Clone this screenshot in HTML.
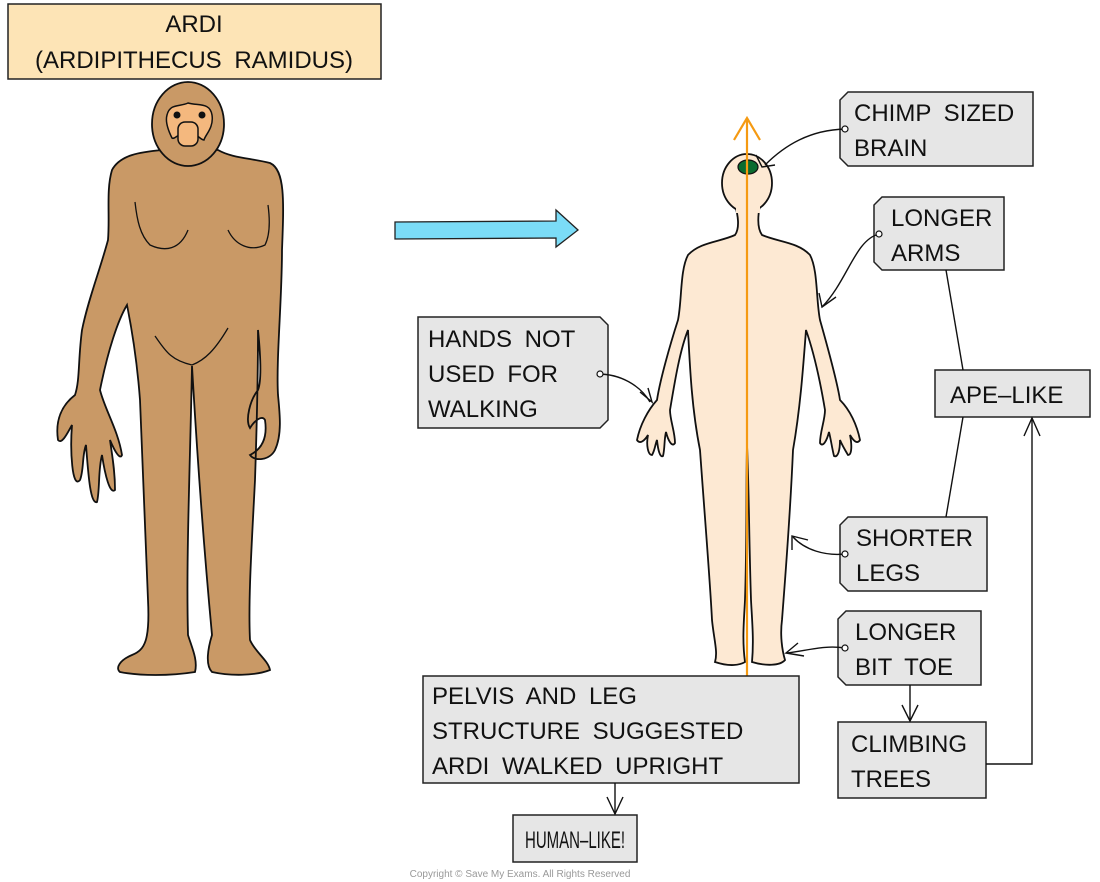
<!DOCTYPE html>
<html><head><meta charset="utf-8"><style>
html,body{margin:0;padding:0;background:#fff;width:1100px;height:882px;overflow:hidden}
text{font-family:"Liberation Sans",sans-serif;font-size:24px;fill:#111}
</style></head><body>
<svg width="1100" height="882" viewBox="0 0 1100 882" xmlns="http://www.w3.org/2000/svg">
<rect x="8" y="4" width="373" height="75" fill="#fde4b6" stroke="#222" stroke-width="1.5"/>
<text x="194" y="32" text-anchor="middle">ARDI</text>
<text x="194" y="68" text-anchor="middle" word-spacing="6">(ARDIPITHECUS RAMIDUS)</text>
<path d="M162,150 C140,152 120,155 112,170 C106,190 110,215 108,240 C100,270 88,300 82,330 C78,360 80,380 75,395 C62,405 55,420 58,440 C62,445 68,432 72,425 C70,450 72,490 80,480 C84,470 82,455 86,445 C88,470 90,505 97,502 C100,490 98,470 102,455 C105,475 110,495 115,490 C115,470 112,455 110,440 C115,452 120,460 122,455 C118,430 105,410 100,390 C108,350 118,320 127,305 C132,330 137,360 140,400 C143,460 145,540 148,600 C150,640 145,650 132,655 C120,660 115,668 120,672 C140,676 170,676 195,672 C198,660 192,648 188,635 C186,560 190,470 192,366 C198,470 205,560 212,635 C208,648 205,665 212,672 C230,676 255,676 270,670 C268,660 255,652 250,640 C248,600 252,540 255,480 C257,420 258,370 258,330 C260,350 262,380 258,390 C250,400 245,420 250,428 C255,420 262,415 265,420 C268,440 260,450 250,455 C255,462 270,460 275,450 C282,435 280,415 278,395 C276,360 282,300 282,250 C284,200 285,170 270,163 C250,158 232,158 218,150 Z" fill="#c99966" stroke="#111" stroke-width="1.8"/>
<ellipse cx="188" cy="124" rx="36" ry="42" fill="#c99966" stroke="#111" stroke-width="1.8"/>
<path d="M167,115 C170,103 180,107 188,103 C198,106 210,102 212,115 C214,128 205,135 204,140 C200,140 197,132 188,134 C178,132 175,140 172,138 C168,130 165,122 167,115 Z" fill="#f4b87e" stroke="#111" stroke-width="1.5"/>
<rect x="178" y="122" width="20" height="24" rx="7" fill="#f4b87e" stroke="#111" stroke-width="1.5"/>
<circle cx="177" cy="115" r="3.5" fill="#111"/><circle cx="202" cy="115" r="3.5" fill="#111"/>
<path d="M135,202 C137,220 140,235 150,245 C165,252 180,250 188,230 M228,230 C235,245 250,252 265,245 C270,235 270,220 268,205" fill="none" stroke="#111" stroke-width="1.3"/>
<path d="M155,336 C165,350 170,360 192,365 C205,360 215,350 228,328" fill="none" stroke="#111" stroke-width="1.3"/>
<path d="M395,222 L556,221 L556,210 L578,230 L556,247 L556,238 L395,239 Z" fill="#7bdcf7" stroke="#222" stroke-width="1.3"/>
<path d="M735,205 C738,215 740,228 735,235 C720,242 700,242 688,255 C680,270 682,300 678,320 C670,345 660,380 657,400 C648,410 640,425 637,440 C640,445 645,440 648,435 C646,445 648,455 652,455 C655,450 655,445 657,440 C658,450 660,458 663,456 C665,448 664,440 666,432 C668,440 672,448 675,443 C675,432 670,420 670,410 C675,380 680,350 688,330 C690,370 692,410 700,450 C705,520 710,580 712,620 C714,640 718,652 715,662 C730,667 740,665 745,662 C742,640 744,620 745,600 C747,540 746,490 747,445 C749,490 749,540 751,600 C752,620 754,640 752,662 C765,666 780,666 785,660 C782,650 780,635 782,620 C785,580 790,520 793,450 C800,410 803,370 806,330 C813,350 820,380 825,410 C825,420 820,432 820,443 C823,448 827,440 829,432 C831,440 832,448 834,456 C838,458 840,450 840,440 C842,445 845,450 848,455 C852,455 852,445 850,435 C853,440 857,445 860,440 C857,425 850,410 840,400 C837,380 827,345 820,320 C816,300 818,270 810,255 C798,242 778,242 762,235 C757,228 758,215 760,205 Z" fill="#fde9d3" stroke="#111" stroke-width="1.8"/>
<ellipse cx="747" cy="183" rx="25" ry="29" fill="#fde9d3" stroke="#111" stroke-width="1.8"/>
<rect x="736" y="205" width="24" height="8" fill="#fde9d3"/>
<ellipse cx="748" cy="167" rx="10" ry="7" fill="#0b6b2f" stroke="#111" stroke-width="1.2"/>
<line x1="747" y1="118" x2="747" y2="676" stroke="#f59a12" stroke-width="2.2"/>
<path d="M734,140 L747,118 L760,140" fill="none" stroke="#f59a12" stroke-width="2.2"/>
<g fill="#e6e6e6" stroke="#222" stroke-width="1.5">
<path d="M848,92 L1033,92 L1033,166 L848,166 L840,158 L840,100 Z"/>
<path d="M882,197 L1004,197 L1004,270 L882,270 L874,262 L874,205 Z"/>
<path d="M418,317 L600,317 L608,325 L608,420 L600,428 L418,428 Z"/>
<rect x="935" y="370" width="155" height="47"/>
<path d="M848,517 L987,517 L987,591 L848,591 L840,583 L840,525 Z"/>
<path d="M846,611 L981,611 L981,685 L846,685 L838,677 L838,619 Z"/>
<rect x="838" y="722" width="148" height="76"/>
<rect x="423" y="676" width="376" height="107"/>
<rect x="513" y="815" width="124" height="47"/>
</g>
<g word-spacing="6">
<text x="854" y="121">CHIMP SIZED</text><text x="854" y="156">BRAIN</text>
<text x="891" y="226">LONGER</text><text x="891" y="261">ARMS</text>
<text x="428" y="347">HANDS NOT</text><text x="428" y="382">USED FOR</text><text x="428" y="417">WALKING</text>
<text x="950" y="403">APE–LIKE</text>
<text x="856" y="546">SHORTER</text><text x="856" y="581">LEGS</text>
<text x="855" y="640">LONGER</text><text x="855" y="675">BIT TOE</text>
<text x="851" y="752">CLIMBING</text><text x="851" y="787">TREES</text>
<text x="432" y="704">PELVIS AND LEG</text><text x="432" y="739">STRUCTURE SUGGESTED</text><text x="432" y="774">ARDI WALKED UPRIGHT</text>
<text x="525" y="848" textLength="100" lengthAdjust="spacingAndGlyphs">HUMAN–LIKE!</text>
</g>
<g fill="none" stroke="#111" stroke-width="1.4">
<line x1="946" y1="270" x2="963" y2="370"/>
<line x1="963" y1="417" x2="946" y2="517"/>
<line x1="910" y1="685" x2="910" y2="721"/><path d="M902,705 L910,721 L918,705"/>
<polyline points="986,764 1032,764 1032,418"/><path d="M1024,436 L1032,418 L1040,436"/>
<line x1="615" y1="783" x2="615" y2="814"/><path d="M607,797 L615,814 L623,797"/>
<path d="M845,129 C810,130 785,145 765,165"/><path d="M756,155 L762,167 L775,165"/>
<path d="M879,234 C855,240 848,280 822,307"/><path d="M819,293 L822,307 L836,297"/>
<path d="M598,374 C620,374 640,385 650,402"/><path d="M640,392 L652,402 L648,388"/>
<path d="M845,554 C825,556 805,550 793,537"/><path d="M792,550 L792,536 L808,540"/>
<path d="M845,648 C825,645 810,650 787,653"/><path d="M798,643 L786,653 L804,656"/>
</g>
<g fill="#fff" stroke="#111" stroke-width="1.2">
<circle cx="845" cy="129" r="3"/><circle cx="879" cy="234" r="3"/><circle cx="600" cy="374" r="3"/><circle cx="845" cy="554" r="3"/><circle cx="845" cy="648" r="3"/>
</g>
<text x="520" y="877" text-anchor="middle" style="font-size:10px;fill:#999">Copyright © Save My Exams. All Rights Reserved</text>
</svg>
</body></html>
